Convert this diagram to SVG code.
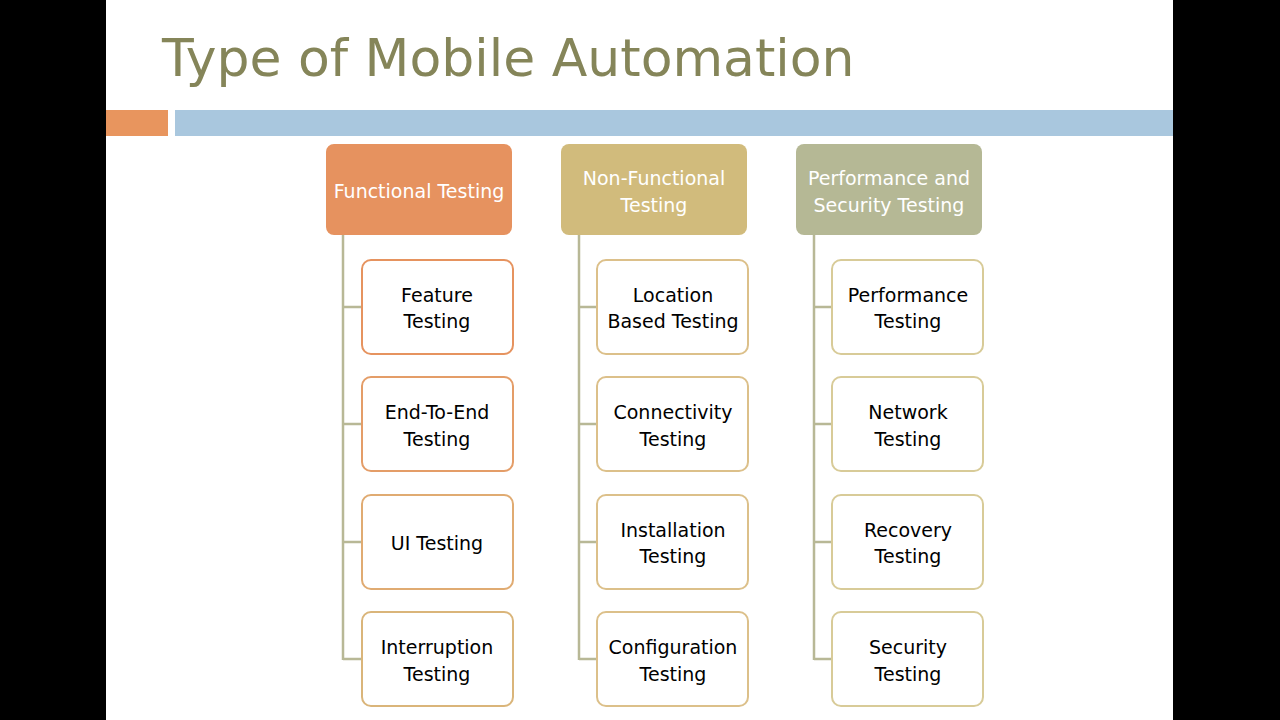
<svg xmlns="http://www.w3.org/2000/svg" width="1280" height="720" viewBox="0 0 1280 720">
<style>
.t{font-family:"DejaVu Sans",sans-serif;font-size:19px;text-anchor:middle}
.h{fill:#fff}
.c{fill:#000}
.box{fill:#fff;stroke-width:2}
.ln{stroke:#b8b896;stroke-width:2.5;fill:none}
</style>
<rect width="1280" height="720" fill="#000"/>
<rect x="106" y="0" width="1067" height="720" fill="#fff"/>
<text x="162" y="76" font-family="DejaVu Sans,sans-serif" font-size="52" fill="#858559">Type of Mobile Automation</text>
<rect x="106" y="110" width="62" height="26" fill="#e8955e"/>
<rect x="175" y="110" width="998" height="26" fill="#a9c7de"/>
<g id="connectors" class="ln">
<path d="M343 235V660M343 307H362M343 424H362M343 542H362M343 659H362"/>
<path d="M579 235V660M579 307H597M579 424H597M579 542H597M579 659H597"/>
<path d="M814 235V660M814 307H832M814 424H832M814 542H832M814 659H832"/>
</g>
<g id="h1"><rect x="326" y="144" width="186" height="91" rx="8" fill="#e6925f"/><text class="t h" x="419" y="198">Functional Testing</text></g>
<g id="h2"><rect x="561" y="144" width="186" height="91" rx="8" fill="#d1bb7c"/><text class="t h" x="654" y="185">Non-Functional</text><text class="t h" x="654" y="212">Testing</text></g>
<g id="h3"><rect x="796" y="144" width="186" height="91" rx="8" fill="#b5b895"/><text class="t h" x="889" y="185">Performance and</text><text class="t h" x="889" y="212">Security Testing</text></g>
<g id="c11"><rect class="box" x="362" y="260" width="151" height="94" rx="9" stroke="#e6935f"/><text class="t c" x="437" y="302">Feature</text><text class="t c" x="437" y="328">Testing</text></g>
<g id="c12"><rect class="box" x="362" y="377" width="151" height="94" rx="9" stroke="#e49d68"/><text class="t c" x="437" y="419">End-To-End</text><text class="t c" x="437" y="446">Testing</text></g>
<g id="c13"><rect class="box" x="362" y="495" width="151" height="94" rx="9" stroke="#e0ab72"/><text class="t c" x="437" y="550">UI Testing</text></g>
<g id="c14"><rect class="box" x="362" y="612" width="151" height="94" rx="9" stroke="#dab57a"/><text class="t c" x="437" y="654">Interruption</text><text class="t c" x="437" y="681">Testing</text></g>
<g id="c21"><rect class="box" x="597" y="260" width="151" height="94" rx="9" stroke="#dcc08a"/><text class="t c" x="673" y="302">Location</text><text class="t c" x="673" y="328">Based Testing</text></g>
<g id="c22"><rect class="box" x="597" y="377" width="151" height="94" rx="9" stroke="#dcc08a"/><text class="t c" x="673" y="419">Connectivity</text><text class="t c" x="673" y="446">Testing</text></g>
<g id="c23"><rect class="box" x="597" y="495" width="151" height="94" rx="9" stroke="#dcc08a"/><text class="t c" x="673" y="537">Installation</text><text class="t c" x="673" y="563">Testing</text></g>
<g id="c24"><rect class="box" x="597" y="612" width="151" height="94" rx="9" stroke="#dcc08a"/><text class="t c" x="673" y="654">Configuration</text><text class="t c" x="673" y="681">Testing</text></g>
<g id="c31"><rect class="box" x="832" y="260" width="151" height="94" rx="9" stroke="#d8cb98"/><text class="t c" x="908" y="302">Performance</text><text class="t c" x="908" y="328">Testing</text></g>
<g id="c32"><rect class="box" x="832" y="377" width="151" height="94" rx="9" stroke="#d8cb98"/><text class="t c" x="908" y="419">Network</text><text class="t c" x="908" y="446">Testing</text></g>
<g id="c33"><rect class="box" x="832" y="495" width="151" height="94" rx="9" stroke="#d8cb98"/><text class="t c" x="908" y="537">Recovery</text><text class="t c" x="908" y="563">Testing</text></g>
<g id="c34"><rect class="box" x="832" y="612" width="151" height="94" rx="9" stroke="#d8cb98"/><text class="t c" x="908" y="654">Security</text><text class="t c" x="908" y="681">Testing</text></g>
</svg>
